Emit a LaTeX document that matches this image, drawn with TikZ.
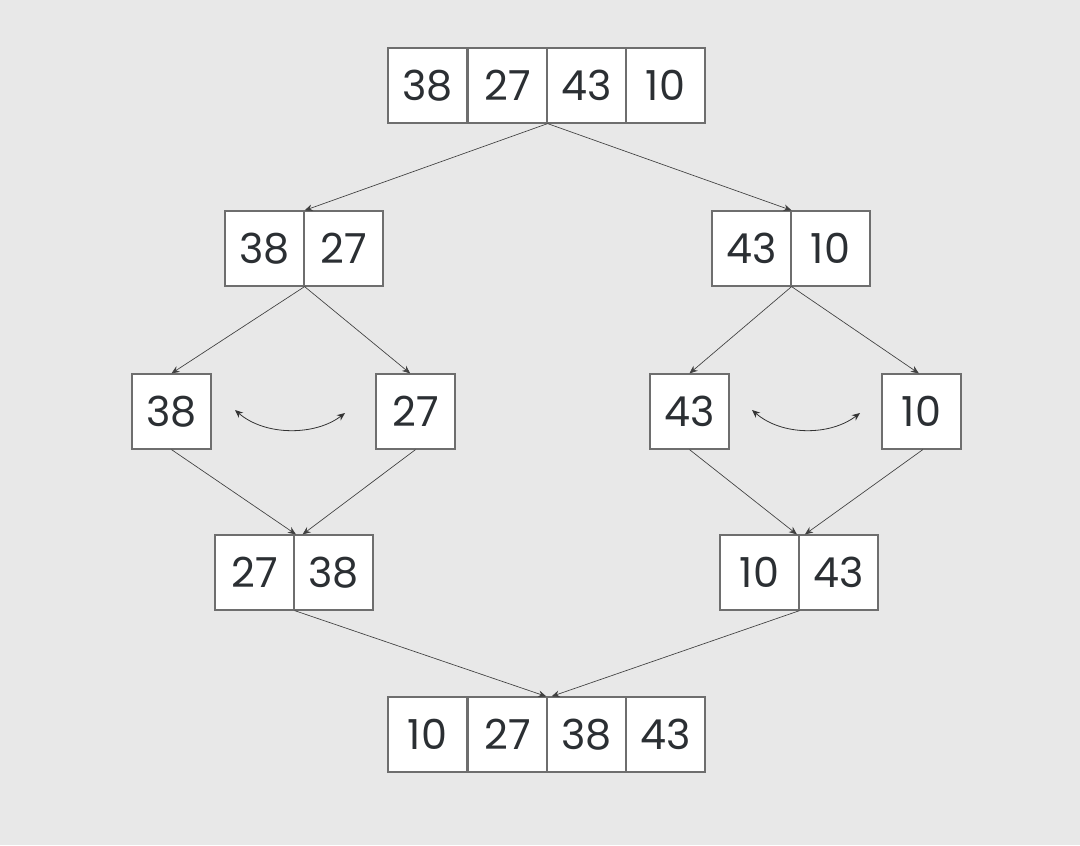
\documentclass[tikz,border=0pt]{standalone}
\usepackage{fontspec}
\setmainfont{Poppins}
\usetikzlibrary{arrows.meta}
\definecolor{bg}{HTML}{E8E8E8}
\definecolor{txt}{HTML}{2B2F33}
\definecolor{edge}{HTML}{6E6E6E}
\begin{document}
\begin{tikzpicture}[x=0.75pt,y=-0.75pt,
  cell/.style={draw=edge,line width=0.9pt,fill=white,minimum width=59.25pt,minimum height=56.25pt,inner sep=0pt,text=txt,font=\fontsize{31}{36}\selectfont},
  link/.style={draw=black!75,line width=0.5pt,-{Stealth[length=6pt,width=5pt]}},
  swap/.style={draw=black!80,line width=0.6pt,{Stealth[length=6pt,width=5pt]}-{Stealth[length=6pt,width=5pt]}}]
\fill[bg] (0,0) rectangle (1080,845);
\useasboundingbox (0,0) rectangle (1080,845);
% row 1
\node[cell] (a1) at (427.5,85.5) {38};
\node[cell] (a2) at (507.5,85.5) {27};
\node[cell] (a3) at (586.5,85.5) {43};
\node[cell] (a4) at (665.5,85.5) {10};
% row 2
\node[cell] (b1) at (264.5,248.5) {38};
\node[cell] (b2) at (343.5,248.5) {27};
\node[cell] (b3) at (751.5,248.5) {43};
\node[cell] (b4) at (830.5,248.5) {10};
% row 3
\node[cell] (c1) at (171.5,411.5) {38};
\node[cell] (c2) at (415.5,411.5) {27};
\node[cell] (c3) at (689.5,411.5) {43};
\node[cell] (c4) at (921.5,411.5) {10};
% row 4
\node[cell] (d1) at (254.5,572.5) {27};
\node[cell] (d2) at (333.5,572.5) {38};
\node[cell] (d3) at (759.5,572.5) {10};
\node[cell] (d4) at (838.5,572.5) {43};
% row 5
\node[cell] (e1) at (427.5,734.5) {10};
\node[cell] (e2) at (507.5,734.5) {27};
\node[cell] (e3) at (586.5,734.5) {38};
\node[cell] (e4) at (665.5,734.5) {43};
% connectors
\draw[link] (a2.south east) -- (b1.north east);
\draw[link] (a2.south east) -- (b3.north east);
\draw[link] (b1.south east) -- (c1.north);
\draw[link] (b1.south east) -- ([xshift=-4]c2.north);
\draw[link] (b3.south east) -- (c3.north);
\draw[link] (b3.south east) -- ([xshift=-2]c4.north);
\draw[link] (c1.south) -- ([xshift=1]d1.north east);
\draw[link] (c2.south) -- ([xshift=6]d1.north east);
\draw[link] (c3.south) -- ([xshift=-2]d3.north east);
\draw[link] ([xshift=1]c4.south) -- ([xshift=4]d3.north east);
\draw[link] (d1.north east |- d1.south) -- ([xshift=-1]e2.north east);
\draw[link] (d3.north east |- d3.south) -- ([xshift=3]e2.north east);
\coordinate (s1) at (235,410); \coordinate (s2) at (345,413);
\coordinate (s3) at (752,410); \coordinate (s4) at (860,413);
\draw[swap] (s1) .. controls (265,436) and (315,436) .. (s2);
\draw[swap] (s3) .. controls (782,436) and (830,436) .. (s4);
\end{tikzpicture}
\end{document}
